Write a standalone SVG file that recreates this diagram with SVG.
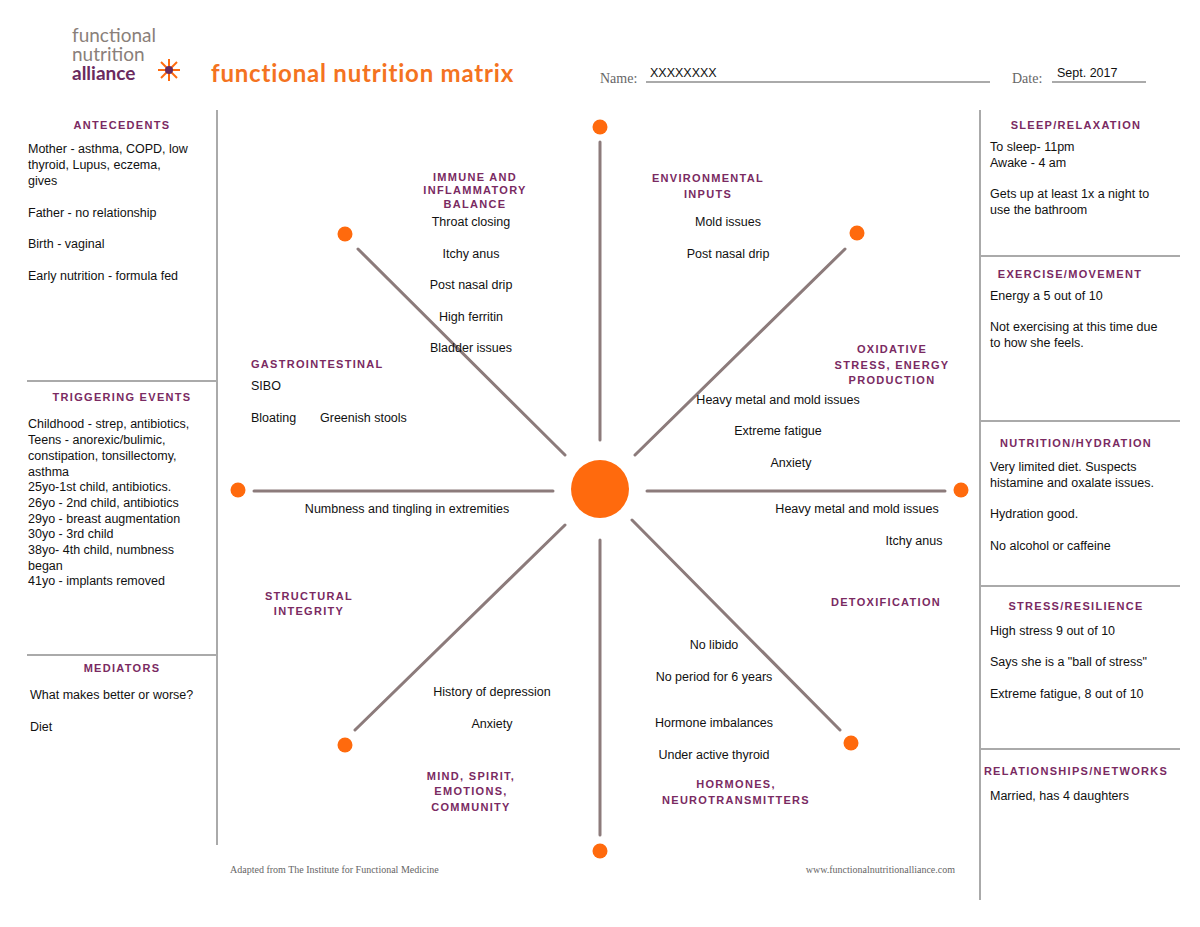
<svg xmlns="http://www.w3.org/2000/svg" width="1200" height="927" viewBox="0 0 1200 927">
<style>
.h{font-family:"Liberation Sans",Arial,sans-serif;font-size:11px;fill:#7a2a62;letter-spacing:1.3px;font-weight:bold}
.t{font-family:"Liberation Sans",Arial,sans-serif;font-size:12.5px;fill:#111}
.c{text-anchor:middle}
.sep{stroke:#aaa;stroke-width:2}
.sp{stroke:#8c7b7b;stroke-width:3;stroke-linecap:round}
.d{fill:#ff6a0d}
.s{font-family:"Liberation Serif",serif;font-size:10px;fill:#666}
.lg{font-family:Lato,"Liberation Sans",sans-serif;font-size:19px;fill:#8a7f7a}
</style>
<rect width="1200" height="927" fill="#fff"/>
<g id="logo">
<text x="72" y="42" class="lg">functional</text>
<text x="72" y="61" class="lg">nutrition</text>
<text x="72" y="80" class="lg" font-weight="bold" fill="#6b2a5e" style="fill:#6b2a5e">alliance</text>
<g stroke="#ff6a0d" stroke-width="2"><line x1="158" y1="70" x2="180" y2="70"/><line x1="169" y1="59" x2="169" y2="81"/><line x1="161" y1="62" x2="177" y2="78"/><line x1="177" y1="62" x2="161" y2="78"/></g>
<circle cx="169" cy="70" r="4" fill="#6b2a5e"/>
<text x="211" y="82" font-family="Lato,'Liberation Sans',sans-serif" font-size="24" font-weight="bold" letter-spacing="0.8" fill="#f47321">functional nutrition matrix</text>
</g>
<g id="header">
<text x="600" y="83" font-family="'Liberation Serif',serif" font-size="14" fill="#666">Name:</text>
<line x1="646" y1="82" x2="990" y2="82" class="sep" stroke-width="1"/>
<text x="650" y="77" class="t">XXXXXXXX</text>
<text x="1012" y="83" font-family="'Liberation Serif',serif" font-size="14" fill="#666">Date:</text>
<line x1="1052" y1="82" x2="1146" y2="82" class="sep" stroke-width="1"/>
<text x="1057" y="77" class="t">Sept. 2017</text>
</g>
<g id="frame">
<line x1="217" y1="110" x2="217" y2="845" class="sep"/>
<line x1="27" y1="381" x2="217" y2="381" class="sep"/>
<line x1="27" y1="655" x2="217" y2="655" class="sep"/>
<line x1="980" y1="110" x2="980" y2="900" class="sep"/>
<line x1="980" y1="256" x2="1180" y2="256" class="sep"/>
<line x1="980" y1="421" x2="1180" y2="421" class="sep"/>
<line x1="980" y1="586" x2="1180" y2="586" class="sep"/>
<line x1="980" y1="749" x2="1180" y2="749" class="sep"/>
</g>
<g id="connectors">
<line x1="600" y1="142" x2="600" y2="440" class="sp"/>
<line x1="600" y1="540" x2="600" y2="835" class="sp"/>
<line x1="254" y1="491" x2="553" y2="491" class="sp"/>
<line x1="647" y1="491" x2="945" y2="491" class="sp"/>
<line x1="358" y1="249" x2="565" y2="455" class="sp"/>
<line x1="845" y1="249" x2="635" y2="455" class="sp"/>
<line x1="355" y1="730" x2="565" y2="525" class="sp"/>
<line x1="840" y1="730" x2="632" y2="520" class="sp"/>
</g>
<g id="hub"><circle cx="600" cy="489" r="29" class="d"/>
<circle cx="600" cy="127" r="7.5" class="d"/><circle cx="600" cy="851" r="7.5" class="d"/>
<circle cx="238" cy="490" r="7.5" class="d"/><circle cx="961" cy="490" r="7.5" class="d"/>
<circle cx="345" cy="234" r="7.5" class="d"/><circle cx="857" cy="233" r="7.5" class="d"/>
<circle cx="345" cy="745" r="7.5" class="d"/><circle cx="851" cy="743" r="7.5" class="d"/></g>
<g id="antecedents">
<text x="122" y="129" class="h c">ANTECEDENTS</text>
<text class="t"><tspan x="28" y="153">Mother - asthma, COPD, low</tspan><tspan x="28" y="169">thyroid, Lupus, eczema,</tspan><tspan x="28" y="185">gives</tspan><tspan x="28" y="217">Father - no relationship</tspan><tspan x="28" y="248">Birth - vaginal</tspan><tspan x="28" y="280">Early nutrition - formula fed</tspan></text>
</g>
<g id="triggering">
<text x="122" y="401" class="h c">TRIGGERING EVENTS</text>
<text class="t"><tspan x="28" y="428">Childhood - strep, antibiotics,</tspan><tspan x="28" y="444">Teens - anorexic/bulimic,</tspan><tspan x="28" y="460">constipation, tonsillectomy,</tspan><tspan x="28" y="476">asthma</tspan><tspan x="28" y="491">25yo-1st child, antibiotics.</tspan><tspan x="28" y="507">26yo - 2nd child, antibiotics</tspan><tspan x="28" y="523">29yo - breast augmentation</tspan><tspan x="28" y="538">30yo - 3rd child</tspan><tspan x="28" y="554">38yo- 4th child, numbness</tspan><tspan x="28" y="570">began</tspan><tspan x="28" y="585">41yo - implants removed</tspan></text>
</g>
<g id="mediators">
<text x="122" y="672" class="h c">MEDIATORS</text>
<text class="t"><tspan x="30" y="699">What makes better or worse?</tspan><tspan x="30" y="731">Diet</tspan></text>
</g>
<g id="sleep"><text x="1076" y="129" class="h c">SLEEP/RELAXATION</text>
<text class="t"><tspan x="990" y="151">To sleep- 11pm</tspan><tspan x="990" y="167">Awake - 4 am</tspan><tspan x="990" y="198">Gets up at least 1x a night to</tspan><tspan x="990" y="214">use the bathroom</tspan></text></g>
<g id="exercise"><text x="1070" y="278" class="h c">EXERCISE/MOVEMENT</text>
<text class="t"><tspan x="990" y="300">Energy a 5 out of 10</tspan><tspan x="990" y="331">Not exercising at this time due</tspan><tspan x="990" y="347">to how she feels.</tspan></text></g>
<g id="nutrition"><text x="1076" y="447" class="h c">NUTRITION/HYDRATION</text>
<text class="t"><tspan x="990" y="471">Very limited diet. Suspects</tspan><tspan x="990" y="487">histamine and oxalate issues.</tspan><tspan x="990" y="518">Hydration good.</tspan><tspan x="990" y="550">No alcohol or caffeine</tspan></text></g>
<g id="stress"><text x="1076" y="610" class="h c">STRESS/RESILIENCE</text>
<text class="t"><tspan x="990" y="635">High stress 9 out of 10</tspan><tspan x="990" y="666">Says she is a "ball of stress"</tspan><tspan x="990" y="698">Extreme fatigue, 8 out of 10</tspan></text></g>
<g id="relationships"><text x="1076" y="775" class="h c">RELATIONSHIPS/NETWORKS</text>
<text class="t"><tspan x="990" y="800">Married, has 4 daughters</tspan></text></g>
<g id="immune"><text class="h c"><tspan x="475" y="181">IMMUNE AND</tspan><tspan x="475" y="194">INFLAMMATORY</tspan><tspan x="475" y="208">BALANCE</tspan></text>
<text class="t c"><tspan x="471" y="226">Throat closing</tspan><tspan x="471" y="258">Itchy anus</tspan><tspan x="471" y="289">Post nasal drip</tspan><tspan x="471" y="321">High ferritin</tspan><tspan x="471" y="352">Bladder issues</tspan></text></g>
<g id="environmental"><text class="h c"><tspan x="708" y="182">ENVIRONMENTAL</tspan><tspan x="708" y="198">INPUTS</tspan></text>
<text class="t c"><tspan x="728" y="226">Mold issues</tspan><tspan x="728" y="258">Post nasal drip</tspan></text></g>
<g id="oxidative"><text class="h c"><tspan x="892" y="353">OXIDATIVE</tspan><tspan x="892" y="369">STRESS, ENERGY</tspan><tspan x="892" y="384">PRODUCTION</tspan></text>
<text class="t c"><tspan x="778" y="404">Heavy metal and mold issues</tspan><tspan x="778" y="435">Extreme fatigue</tspan><tspan x="791" y="467">Anxiety</tspan></text></g>
<g id="gastro"><text x="251" y="368" class="h">GASTROINTESTINAL</text>
<text class="t"><tspan x="251" y="390">SIBO</tspan><tspan x="251" y="422">Bloating</tspan><tspan x="320" y="422">Greenish stools</tspan></text></g>
<g id="structural"><text x="407" y="513" class="t c">Numbness and tingling in extremities</text>
<text class="h c"><tspan x="309" y="600">STRUCTURAL</tspan><tspan x="309" y="615">INTEGRITY</tspan></text></g>
<g id="detox"><text class="t c"><tspan x="857" y="513">Heavy metal and mold issues</tspan><tspan x="914" y="545">Itchy anus</tspan></text>
<text x="886" y="606" class="h c">DETOXIFICATION</text></g>
<g id="mind"><text class="t c"><tspan x="492" y="696">History of depression</tspan><tspan x="492" y="728">Anxiety</tspan></text>
<text class="h c"><tspan x="471" y="780">MIND, SPIRIT,</tspan><tspan x="471" y="795">EMOTIONS,</tspan><tspan x="471" y="811">COMMUNITY</tspan></text></g>
<g id="hormones"><text class="t c"><tspan x="714" y="649">No libido</tspan><tspan x="714" y="681">No period for 6 years</tspan><tspan x="714" y="727">Hormone imbalances</tspan><tspan x="714" y="759">Under active thyroid</tspan></text>
<text class="h c"><tspan x="736" y="788">HORMONES,</tspan><tspan x="736" y="804">NEUROTRANSMITTERS</tspan></text></g>
<g id="footer"><text x="230" y="873" class="s">Adapted from The Institute for Functional Medicine</text>
<text x="955" y="873" class="s" text-anchor="end">www.functionalnutritionalliance.com</text></g>
</svg>
